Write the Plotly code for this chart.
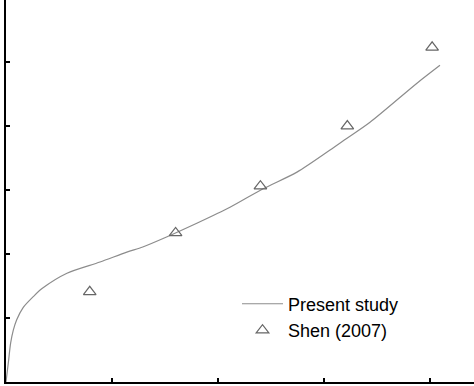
import plotly.graph_objects as go

curve_x = [0.0, 0.022, 0.044, 0.069, 0.10, 0.16, 0.255, 0.34, 0.575, 0.887,
           1.14, 1.29, 1.52, 1.80, 2.113, 2.425, 2.745, 3.057, 3.217, 3.434,
           3.877, 4.094]
curve_y = [0.0, 0.30, 0.61, 0.81, 0.97, 1.16, 1.33, 1.46, 1.70, 1.875,
           2.03, 2.11, 2.27, 2.48, 2.73, 3.02, 3.28, 3.625, 3.81, 4.06,
           4.67, 4.95]

# Shen (2007) points
shen_x = [0.79, 1.60, 2.40, 3.22, 4.02]
shen_y = [1.41, 2.33, 3.06, 4.00, 5.23]

fig = go.Figure()
fig.add_trace(go.Scatter(x=curve_x, y=curve_y, mode="lines", name="Present study",
                         line=dict(color="#8c8c8c", width=1.2, shape="spline",
                                   smoothing=0.8)))
fig.add_trace(go.Scatter(x=shen_x, y=shen_y, mode="markers", name="Shen (2007)",
                         marker=dict(symbol="triangle-up-open", size=11,
                                     color="#666666", line=dict(width=1.2))))

fig.update_layout(
    width=474, height=386,
    margin=dict(l=6, r=0, t=0, b=4),
    paper_bgcolor="white", plot_bgcolor="white",
    font=dict(family="Liberation Sans, Arial", size=18, color="black"),
    showlegend=True,
    legend=dict(x=0.4936, y=0.2525, xanchor="left", yanchor="top",
                bgcolor="rgba(0,0,0,0)", tracegroupgap=0, itemwidth=41),
    xaxis=dict(range=[0, 4.415], showgrid=False, zeroline=False,
               showline=True, linecolor="black", linewidth=2,
               ticks="inside", ticklen=4, tickwidth=2, tickcolor="black",
               tickvals=[1, 2, 3, 4], showticklabels=False),
    yaxis=dict(range=[0, 5.97], showgrid=False, zeroline=False,
               showline=True, linecolor="black", linewidth=2,
               ticks="inside", ticklen=4, tickwidth=2, tickcolor="black",
               tickvals=[1, 2, 3, 4, 5], showticklabels=False),
)

fig.write_html("out.html", config={"displayModeBar": False},
               post_script="document.body.style.margin='0px';")
